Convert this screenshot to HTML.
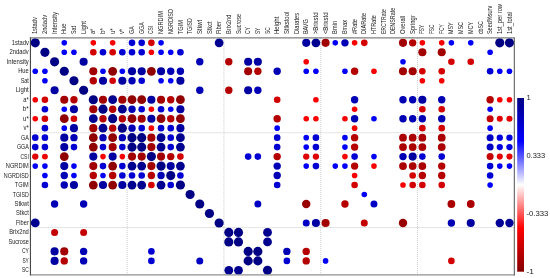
<!DOCTYPE html>
<html><head><meta charset="utf-8"><title>Correlation plot</title>
<style>html,body{margin:0;padding:0;background:#fff}svg{display:block}text{font-family:"Liberation Sans",sans-serif;fill:#222}</style></head>
<body>
<svg width="550" height="278" viewBox="0 0 550 278">
<defs><linearGradient id="cb" x1="0" y1="0" x2="0" y2="1"><stop offset="0" stop-color="#000084"/><stop offset="0.25" stop-color="#0000ff"/><stop offset="0.5" stop-color="#ffffff"/><stop offset="0.75" stop-color="#ff0000"/><stop offset="1" stop-color="#840000"/></linearGradient></defs>
<rect width="550" height="278" fill="#fff"/>
<line x1="127.18" y1="37.90" x2="127.18" y2="274.90" stroke="#aaa" stroke-width="0.6" stroke-dasharray="1 1"/>
<line x1="223.96" y1="37.90" x2="223.96" y2="274.90" stroke="#aaa" stroke-width="0.6" stroke-dasharray="1 1"/>
<line x1="320.74" y1="37.90" x2="320.74" y2="274.90" stroke="#aaa" stroke-width="0.6" stroke-dasharray="1 1"/>
<line x1="417.52" y1="37.90" x2="417.52" y2="274.90" stroke="#aaa" stroke-width="0.6" stroke-dasharray="1 1"/>
<line x1="30.40" y1="132.70" x2="514.30" y2="132.70" stroke="#aaa" stroke-width="0.6" stroke-dasharray="1 1"/>
<line x1="30.40" y1="227.50" x2="514.30" y2="227.50" stroke="#aaa" stroke-width="0.6" stroke-dasharray="1 1"/>
<circle cx="35.24" cy="42.84" r="4.58" fill="#000084"/>
<circle cx="64.27" cy="42.84" r="2.80" fill="#0000f8"/>
<circle cx="93.31" cy="42.84" r="2.80" fill="#f80000"/>
<circle cx="112.66" cy="42.84" r="2.80" fill="#f80000"/>
<circle cx="132.02" cy="42.84" r="3.30" fill="#0000d3"/>
<circle cx="141.70" cy="42.84" r="3.30" fill="#0000d3"/>
<circle cx="151.38" cy="42.84" r="3.30" fill="#d30000"/>
<circle cx="161.05" cy="42.84" r="2.80" fill="#0000f8"/>
<circle cx="219.12" cy="42.84" r="4.40" fill="#000090"/>
<circle cx="306.22" cy="42.84" r="4.05" fill="#0000a2"/>
<circle cx="315.90" cy="42.84" r="4.40" fill="#000090"/>
<circle cx="325.58" cy="42.84" r="4.05" fill="#a20000"/>
<circle cx="335.26" cy="42.84" r="2.80" fill="#0000f8"/>
<circle cx="344.94" cy="42.84" r="3.70" fill="#0000b5"/>
<circle cx="354.61" cy="42.84" r="2.80" fill="#f80000"/>
<circle cx="364.29" cy="42.84" r="3.30" fill="#d30000"/>
<circle cx="403.00" cy="42.84" r="4.05" fill="#a20000"/>
<circle cx="412.68" cy="42.84" r="3.70" fill="#b50000"/>
<circle cx="422.36" cy="42.84" r="2.80" fill="#f80000"/>
<circle cx="441.72" cy="42.84" r="2.80" fill="#f80000"/>
<circle cx="451.39" cy="42.84" r="2.80" fill="#0000f8"/>
<circle cx="470.75" cy="42.84" r="2.80" fill="#0000f8"/>
<circle cx="499.78" cy="42.84" r="4.58" fill="#000084"/>
<circle cx="509.46" cy="42.84" r="4.58" fill="#000084"/>
<circle cx="44.92" cy="52.32" r="4.58" fill="#000084"/>
<circle cx="64.27" cy="52.32" r="2.80" fill="#0000f8"/>
<circle cx="73.95" cy="52.32" r="2.80" fill="#0000f8"/>
<circle cx="93.31" cy="52.32" r="3.30" fill="#d30000"/>
<circle cx="102.99" cy="52.32" r="3.30" fill="#0000d3"/>
<circle cx="112.66" cy="52.32" r="3.30" fill="#d30000"/>
<circle cx="122.34" cy="52.32" r="3.30" fill="#0000d3"/>
<circle cx="132.02" cy="52.32" r="3.30" fill="#0000d3"/>
<circle cx="141.70" cy="52.32" r="3.30" fill="#0000d3"/>
<circle cx="151.38" cy="52.32" r="2.80" fill="#f80000"/>
<circle cx="161.05" cy="52.32" r="2.80" fill="#0000f8"/>
<circle cx="170.73" cy="52.32" r="2.80" fill="#0000f8"/>
<circle cx="180.41" cy="52.32" r="3.30" fill="#0000d3"/>
<circle cx="422.36" cy="52.32" r="4.05" fill="#a20000"/>
<circle cx="441.72" cy="52.32" r="4.05" fill="#a20000"/>
<circle cx="490.11" cy="52.32" r="2.80" fill="#0000f8"/>
<circle cx="54.59" cy="61.80" r="4.58" fill="#000084"/>
<circle cx="83.63" cy="61.80" r="4.05" fill="#0000a2"/>
<circle cx="199.77" cy="61.80" r="3.70" fill="#0000b5"/>
<circle cx="228.80" cy="61.80" r="3.70" fill="#b50000"/>
<circle cx="248.16" cy="61.80" r="4.05" fill="#0000a2"/>
<circle cx="257.83" cy="61.80" r="4.05" fill="#0000a2"/>
<circle cx="306.22" cy="61.80" r="2.80" fill="#f80000"/>
<circle cx="403.00" cy="61.80" r="2.80" fill="#0000f8"/>
<circle cx="451.39" cy="61.80" r="3.30" fill="#d30000"/>
<circle cx="470.75" cy="61.80" r="3.30" fill="#d30000"/>
<circle cx="35.24" cy="71.28" r="2.80" fill="#0000f8"/>
<circle cx="44.92" cy="71.28" r="2.80" fill="#0000f8"/>
<circle cx="64.27" cy="71.28" r="4.58" fill="#000084"/>
<circle cx="93.31" cy="71.28" r="4.05" fill="#a20000"/>
<circle cx="102.99" cy="71.28" r="2.80" fill="#0000f8"/>
<circle cx="112.66" cy="71.28" r="4.40" fill="#900000"/>
<circle cx="122.34" cy="71.28" r="2.80" fill="#0000f8"/>
<circle cx="132.02" cy="71.28" r="4.05" fill="#0000a2"/>
<circle cx="141.70" cy="71.28" r="4.05" fill="#0000a2"/>
<circle cx="151.38" cy="71.28" r="4.40" fill="#900000"/>
<circle cx="161.05" cy="71.28" r="4.05" fill="#0000a2"/>
<circle cx="170.73" cy="71.28" r="3.70" fill="#0000b5"/>
<circle cx="180.41" cy="71.28" r="3.70" fill="#0000b5"/>
<circle cx="248.16" cy="71.28" r="4.05" fill="#a20000"/>
<circle cx="257.83" cy="71.28" r="3.70" fill="#b50000"/>
<circle cx="277.19" cy="71.28" r="3.70" fill="#0000b5"/>
<circle cx="306.22" cy="71.28" r="2.80" fill="#0000f8"/>
<circle cx="315.90" cy="71.28" r="2.80" fill="#0000f8"/>
<circle cx="344.94" cy="71.28" r="2.80" fill="#0000f8"/>
<circle cx="354.61" cy="71.28" r="3.70" fill="#b50000"/>
<circle cx="373.97" cy="71.28" r="2.80" fill="#f80000"/>
<circle cx="403.00" cy="71.28" r="4.05" fill="#a20000"/>
<circle cx="412.68" cy="71.28" r="4.05" fill="#a20000"/>
<circle cx="422.36" cy="71.28" r="3.30" fill="#d30000"/>
<circle cx="441.72" cy="71.28" r="3.30" fill="#d30000"/>
<circle cx="490.11" cy="71.28" r="3.30" fill="#0000d3"/>
<circle cx="499.78" cy="71.28" r="2.80" fill="#0000f8"/>
<circle cx="509.46" cy="71.28" r="2.80" fill="#0000f8"/>
<circle cx="44.92" cy="80.76" r="2.80" fill="#0000f8"/>
<circle cx="73.95" cy="80.76" r="4.58" fill="#000084"/>
<circle cx="93.31" cy="80.76" r="3.70" fill="#b50000"/>
<circle cx="102.99" cy="80.76" r="4.05" fill="#0000a2"/>
<circle cx="112.66" cy="80.76" r="3.30" fill="#d30000"/>
<circle cx="122.34" cy="80.76" r="4.05" fill="#0000a2"/>
<circle cx="132.02" cy="80.76" r="3.70" fill="#0000b5"/>
<circle cx="141.70" cy="80.76" r="3.30" fill="#0000d3"/>
<circle cx="161.05" cy="80.76" r="2.80" fill="#0000f8"/>
<circle cx="170.73" cy="80.76" r="2.80" fill="#0000f8"/>
<circle cx="180.41" cy="80.76" r="4.05" fill="#0000a2"/>
<circle cx="422.36" cy="80.76" r="2.80" fill="#f80000"/>
<circle cx="441.72" cy="80.76" r="2.80" fill="#f80000"/>
<circle cx="54.59" cy="90.24" r="4.05" fill="#0000a2"/>
<circle cx="83.63" cy="90.24" r="4.58" fill="#000084"/>
<circle cx="199.77" cy="90.24" r="3.70" fill="#0000b5"/>
<circle cx="228.80" cy="90.24" r="3.70" fill="#b50000"/>
<circle cx="248.16" cy="90.24" r="4.05" fill="#0000a2"/>
<circle cx="257.83" cy="90.24" r="3.70" fill="#0000b5"/>
<circle cx="35.24" cy="99.72" r="2.80" fill="#f80000"/>
<circle cx="44.92" cy="99.72" r="3.30" fill="#d30000"/>
<circle cx="64.27" cy="99.72" r="4.05" fill="#a20000"/>
<circle cx="73.95" cy="99.72" r="3.70" fill="#b50000"/>
<circle cx="93.31" cy="99.72" r="4.58" fill="#000084"/>
<circle cx="102.99" cy="99.72" r="4.05" fill="#a20000"/>
<circle cx="112.66" cy="99.72" r="4.40" fill="#000090"/>
<circle cx="122.34" cy="99.72" r="4.05" fill="#a20000"/>
<circle cx="132.02" cy="99.72" r="4.40" fill="#900000"/>
<circle cx="141.70" cy="99.72" r="4.40" fill="#900000"/>
<circle cx="151.38" cy="99.72" r="4.05" fill="#0000a2"/>
<circle cx="161.05" cy="99.72" r="4.05" fill="#a20000"/>
<circle cx="170.73" cy="99.72" r="3.70" fill="#b50000"/>
<circle cx="180.41" cy="99.72" r="4.40" fill="#900000"/>
<circle cx="277.19" cy="99.72" r="3.30" fill="#d30000"/>
<circle cx="315.90" cy="99.72" r="2.80" fill="#f80000"/>
<circle cx="354.61" cy="99.72" r="3.70" fill="#0000b5"/>
<circle cx="403.00" cy="99.72" r="3.70" fill="#0000b5"/>
<circle cx="412.68" cy="99.72" r="3.70" fill="#0000b5"/>
<circle cx="422.36" cy="99.72" r="4.05" fill="#0000a2"/>
<circle cx="441.72" cy="99.72" r="3.70" fill="#0000b5"/>
<circle cx="490.11" cy="99.72" r="3.70" fill="#b50000"/>
<circle cx="499.78" cy="99.72" r="2.80" fill="#f80000"/>
<circle cx="509.46" cy="99.72" r="2.80" fill="#f80000"/>
<circle cx="44.92" cy="109.20" r="3.30" fill="#0000d3"/>
<circle cx="64.27" cy="109.20" r="2.80" fill="#0000f8"/>
<circle cx="73.95" cy="109.20" r="4.05" fill="#0000a2"/>
<circle cx="93.31" cy="109.20" r="4.05" fill="#a20000"/>
<circle cx="102.99" cy="109.20" r="4.58" fill="#000084"/>
<circle cx="112.66" cy="109.20" r="3.70" fill="#b50000"/>
<circle cx="122.34" cy="109.20" r="4.40" fill="#000090"/>
<circle cx="132.02" cy="109.20" r="3.70" fill="#0000b5"/>
<circle cx="141.70" cy="109.20" r="3.30" fill="#0000d3"/>
<circle cx="151.38" cy="109.20" r="2.80" fill="#f80000"/>
<circle cx="161.05" cy="109.20" r="3.30" fill="#0000d3"/>
<circle cx="170.73" cy="109.20" r="2.80" fill="#0000f8"/>
<circle cx="180.41" cy="109.20" r="4.05" fill="#0000a2"/>
<circle cx="354.61" cy="109.20" r="2.80" fill="#f80000"/>
<circle cx="422.36" cy="109.20" r="3.30" fill="#d30000"/>
<circle cx="441.72" cy="109.20" r="3.30" fill="#d30000"/>
<circle cx="490.11" cy="109.20" r="2.80" fill="#0000f8"/>
<circle cx="35.24" cy="118.68" r="2.80" fill="#f80000"/>
<circle cx="44.92" cy="118.68" r="3.30" fill="#d30000"/>
<circle cx="64.27" cy="118.68" r="4.40" fill="#900000"/>
<circle cx="73.95" cy="118.68" r="3.30" fill="#d30000"/>
<circle cx="93.31" cy="118.68" r="4.40" fill="#000090"/>
<circle cx="102.99" cy="118.68" r="3.70" fill="#b50000"/>
<circle cx="112.66" cy="118.68" r="4.58" fill="#000084"/>
<circle cx="122.34" cy="118.68" r="3.70" fill="#b50000"/>
<circle cx="132.02" cy="118.68" r="4.40" fill="#900000"/>
<circle cx="141.70" cy="118.68" r="4.05" fill="#a20000"/>
<circle cx="151.38" cy="118.68" r="4.05" fill="#0000a2"/>
<circle cx="161.05" cy="118.68" r="4.40" fill="#900000"/>
<circle cx="170.73" cy="118.68" r="3.70" fill="#b50000"/>
<circle cx="180.41" cy="118.68" r="4.40" fill="#900000"/>
<circle cx="277.19" cy="118.68" r="3.70" fill="#b50000"/>
<circle cx="306.22" cy="118.68" r="2.80" fill="#f80000"/>
<circle cx="315.90" cy="118.68" r="2.80" fill="#f80000"/>
<circle cx="344.94" cy="118.68" r="2.80" fill="#f80000"/>
<circle cx="354.61" cy="118.68" r="3.70" fill="#0000b5"/>
<circle cx="373.97" cy="118.68" r="2.80" fill="#0000f8"/>
<circle cx="403.00" cy="118.68" r="3.70" fill="#0000b5"/>
<circle cx="412.68" cy="118.68" r="3.70" fill="#0000b5"/>
<circle cx="422.36" cy="118.68" r="3.70" fill="#0000b5"/>
<circle cx="441.72" cy="118.68" r="3.70" fill="#0000b5"/>
<circle cx="490.11" cy="118.68" r="3.50" fill="#c40000"/>
<circle cx="499.78" cy="118.68" r="3.05" fill="#e50000"/>
<circle cx="509.46" cy="118.68" r="3.05" fill="#e50000"/>
<circle cx="44.92" cy="128.16" r="3.30" fill="#0000d3"/>
<circle cx="64.27" cy="128.16" r="2.80" fill="#0000f8"/>
<circle cx="73.95" cy="128.16" r="4.05" fill="#0000a2"/>
<circle cx="93.31" cy="128.16" r="4.05" fill="#a20000"/>
<circle cx="102.99" cy="128.16" r="4.40" fill="#000090"/>
<circle cx="112.66" cy="128.16" r="3.70" fill="#b50000"/>
<circle cx="122.34" cy="128.16" r="4.58" fill="#000084"/>
<circle cx="132.02" cy="128.16" r="3.70" fill="#0000b5"/>
<circle cx="141.70" cy="128.16" r="3.30" fill="#0000d3"/>
<circle cx="151.38" cy="128.16" r="2.80" fill="#f80000"/>
<circle cx="161.05" cy="128.16" r="3.30" fill="#0000d3"/>
<circle cx="170.73" cy="128.16" r="3.30" fill="#0000d3"/>
<circle cx="180.41" cy="128.16" r="4.05" fill="#0000a2"/>
<circle cx="277.19" cy="128.16" r="2.80" fill="#0000f8"/>
<circle cx="354.61" cy="128.16" r="2.80" fill="#f80000"/>
<circle cx="422.36" cy="128.16" r="3.30" fill="#d30000"/>
<circle cx="441.72" cy="128.16" r="3.30" fill="#d30000"/>
<circle cx="490.11" cy="128.16" r="2.80" fill="#0000f8"/>
<circle cx="35.24" cy="137.64" r="3.30" fill="#0000d3"/>
<circle cx="44.92" cy="137.64" r="3.30" fill="#0000d3"/>
<circle cx="64.27" cy="137.64" r="4.05" fill="#0000a2"/>
<circle cx="73.95" cy="137.64" r="3.70" fill="#0000b5"/>
<circle cx="93.31" cy="137.64" r="4.40" fill="#900000"/>
<circle cx="102.99" cy="137.64" r="3.70" fill="#0000b5"/>
<circle cx="112.66" cy="137.64" r="4.40" fill="#900000"/>
<circle cx="122.34" cy="137.64" r="3.70" fill="#0000b5"/>
<circle cx="132.02" cy="137.64" r="4.58" fill="#000084"/>
<circle cx="141.70" cy="137.64" r="4.58" fill="#000084"/>
<circle cx="151.38" cy="137.64" r="4.05" fill="#a20000"/>
<circle cx="161.05" cy="137.64" r="4.40" fill="#000090"/>
<circle cx="170.73" cy="137.64" r="3.30" fill="#0000d3"/>
<circle cx="180.41" cy="137.64" r="4.40" fill="#000090"/>
<circle cx="277.19" cy="137.64" r="3.30" fill="#0000d3"/>
<circle cx="306.22" cy="137.64" r="2.80" fill="#0000f8"/>
<circle cx="315.90" cy="137.64" r="3.30" fill="#0000d3"/>
<circle cx="344.94" cy="137.64" r="2.80" fill="#0000f8"/>
<circle cx="354.61" cy="137.64" r="3.70" fill="#b50000"/>
<circle cx="403.00" cy="137.64" r="3.88" fill="#ab0000"/>
<circle cx="412.68" cy="137.64" r="3.88" fill="#ab0000"/>
<circle cx="422.36" cy="137.64" r="3.88" fill="#ab0000"/>
<circle cx="441.72" cy="137.64" r="3.88" fill="#ab0000"/>
<circle cx="490.11" cy="137.64" r="3.50" fill="#0000c4"/>
<circle cx="499.78" cy="137.64" r="3.15" fill="#0000de"/>
<circle cx="509.46" cy="137.64" r="3.15" fill="#0000de"/>
<circle cx="35.24" cy="147.12" r="3.30" fill="#0000d3"/>
<circle cx="44.92" cy="147.12" r="3.30" fill="#0000d3"/>
<circle cx="64.27" cy="147.12" r="4.05" fill="#0000a2"/>
<circle cx="73.95" cy="147.12" r="3.30" fill="#0000d3"/>
<circle cx="93.31" cy="147.12" r="4.40" fill="#900000"/>
<circle cx="102.99" cy="147.12" r="3.30" fill="#0000d3"/>
<circle cx="112.66" cy="147.12" r="4.05" fill="#a20000"/>
<circle cx="122.34" cy="147.12" r="3.30" fill="#0000d3"/>
<circle cx="132.02" cy="147.12" r="4.58" fill="#000084"/>
<circle cx="141.70" cy="147.12" r="4.58" fill="#000084"/>
<circle cx="151.38" cy="147.12" r="4.05" fill="#a20000"/>
<circle cx="161.05" cy="147.12" r="4.40" fill="#000090"/>
<circle cx="170.73" cy="147.12" r="3.30" fill="#0000d3"/>
<circle cx="180.41" cy="147.12" r="4.40" fill="#000090"/>
<circle cx="277.19" cy="147.12" r="3.30" fill="#0000d3"/>
<circle cx="306.22" cy="147.12" r="2.80" fill="#0000f8"/>
<circle cx="315.90" cy="147.12" r="3.30" fill="#0000d3"/>
<circle cx="344.94" cy="147.12" r="2.80" fill="#0000f8"/>
<circle cx="354.61" cy="147.12" r="3.70" fill="#b50000"/>
<circle cx="403.00" cy="147.12" r="3.88" fill="#ab0000"/>
<circle cx="412.68" cy="147.12" r="3.88" fill="#ab0000"/>
<circle cx="422.36" cy="147.12" r="3.88" fill="#ab0000"/>
<circle cx="441.72" cy="147.12" r="3.88" fill="#ab0000"/>
<circle cx="490.11" cy="147.12" r="3.50" fill="#0000c4"/>
<circle cx="499.78" cy="147.12" r="3.15" fill="#0000de"/>
<circle cx="509.46" cy="147.12" r="3.15" fill="#0000de"/>
<circle cx="35.24" cy="156.60" r="3.15" fill="#de0000"/>
<circle cx="44.92" cy="156.60" r="2.95" fill="#ed0000"/>
<circle cx="64.27" cy="156.60" r="4.40" fill="#900000"/>
<circle cx="93.31" cy="156.60" r="4.05" fill="#0000a2"/>
<circle cx="102.99" cy="156.60" r="2.80" fill="#f80000"/>
<circle cx="112.66" cy="156.60" r="4.05" fill="#0000a2"/>
<circle cx="122.34" cy="156.60" r="2.80" fill="#f80000"/>
<circle cx="132.02" cy="156.60" r="4.05" fill="#a20000"/>
<circle cx="141.70" cy="156.60" r="4.05" fill="#a20000"/>
<circle cx="151.38" cy="156.60" r="4.58" fill="#000084"/>
<circle cx="161.05" cy="156.60" r="4.05" fill="#a20000"/>
<circle cx="170.73" cy="156.60" r="3.70" fill="#b50000"/>
<circle cx="180.41" cy="156.60" r="3.30" fill="#d30000"/>
<circle cx="248.16" cy="156.60" r="3.30" fill="#0000d3"/>
<circle cx="257.83" cy="156.60" r="3.30" fill="#0000d3"/>
<circle cx="277.19" cy="156.60" r="3.70" fill="#b50000"/>
<circle cx="306.22" cy="156.60" r="3.15" fill="#de0000"/>
<circle cx="315.90" cy="156.60" r="3.15" fill="#de0000"/>
<circle cx="344.94" cy="156.60" r="2.80" fill="#f80000"/>
<circle cx="354.61" cy="156.60" r="3.30" fill="#0000d3"/>
<circle cx="373.97" cy="156.60" r="2.80" fill="#0000f8"/>
<circle cx="403.00" cy="156.60" r="3.70" fill="#0000b5"/>
<circle cx="412.68" cy="156.60" r="4.05" fill="#0000a2"/>
<circle cx="422.36" cy="156.60" r="3.30" fill="#0000d3"/>
<circle cx="441.72" cy="156.60" r="3.30" fill="#0000d3"/>
<circle cx="490.11" cy="156.60" r="3.50" fill="#c40000"/>
<circle cx="499.78" cy="156.60" r="3.05" fill="#e50000"/>
<circle cx="509.46" cy="156.60" r="3.05" fill="#e50000"/>
<circle cx="35.24" cy="166.08" r="2.80" fill="#0000f8"/>
<circle cx="44.92" cy="166.08" r="2.80" fill="#0000f8"/>
<circle cx="64.27" cy="166.08" r="4.05" fill="#0000a2"/>
<circle cx="73.95" cy="166.08" r="2.80" fill="#0000f8"/>
<circle cx="93.31" cy="166.08" r="4.05" fill="#a20000"/>
<circle cx="102.99" cy="166.08" r="3.30" fill="#0000d3"/>
<circle cx="112.66" cy="166.08" r="4.40" fill="#900000"/>
<circle cx="122.34" cy="166.08" r="3.30" fill="#0000d3"/>
<circle cx="132.02" cy="166.08" r="4.40" fill="#000090"/>
<circle cx="141.70" cy="166.08" r="4.40" fill="#000090"/>
<circle cx="151.38" cy="166.08" r="4.05" fill="#a20000"/>
<circle cx="161.05" cy="166.08" r="4.58" fill="#000084"/>
<circle cx="170.73" cy="166.08" r="4.05" fill="#0000a2"/>
<circle cx="180.41" cy="166.08" r="4.40" fill="#000090"/>
<circle cx="277.19" cy="166.08" r="3.70" fill="#0000b5"/>
<circle cx="306.22" cy="166.08" r="2.80" fill="#0000f8"/>
<circle cx="315.90" cy="166.08" r="3.30" fill="#0000d3"/>
<circle cx="335.26" cy="166.08" r="2.80" fill="#0000f8"/>
<circle cx="344.94" cy="166.08" r="2.80" fill="#0000f8"/>
<circle cx="354.61" cy="166.08" r="3.70" fill="#b50000"/>
<circle cx="373.97" cy="166.08" r="2.80" fill="#f80000"/>
<circle cx="403.00" cy="166.08" r="3.88" fill="#ab0000"/>
<circle cx="412.68" cy="166.08" r="3.88" fill="#ab0000"/>
<circle cx="422.36" cy="166.08" r="3.88" fill="#ab0000"/>
<circle cx="441.72" cy="166.08" r="3.70" fill="#b50000"/>
<circle cx="490.11" cy="166.08" r="3.30" fill="#0000d3"/>
<circle cx="499.78" cy="166.08" r="2.80" fill="#0000f8"/>
<circle cx="509.46" cy="166.08" r="2.80" fill="#0000f8"/>
<circle cx="44.92" cy="175.56" r="2.80" fill="#0000f8"/>
<circle cx="64.27" cy="175.56" r="3.70" fill="#0000b5"/>
<circle cx="73.95" cy="175.56" r="2.80" fill="#0000f8"/>
<circle cx="93.31" cy="175.56" r="3.70" fill="#b50000"/>
<circle cx="102.99" cy="175.56" r="2.80" fill="#0000f8"/>
<circle cx="112.66" cy="175.56" r="3.70" fill="#b50000"/>
<circle cx="122.34" cy="175.56" r="3.30" fill="#0000d3"/>
<circle cx="132.02" cy="175.56" r="3.30" fill="#0000d3"/>
<circle cx="141.70" cy="175.56" r="3.30" fill="#0000d3"/>
<circle cx="151.38" cy="175.56" r="3.70" fill="#b50000"/>
<circle cx="161.05" cy="175.56" r="3.70" fill="#0000b5"/>
<circle cx="170.73" cy="175.56" r="4.58" fill="#000084"/>
<circle cx="180.41" cy="175.56" r="3.30" fill="#0000d3"/>
<circle cx="277.19" cy="175.56" r="3.70" fill="#0000b5"/>
<circle cx="354.61" cy="175.56" r="2.80" fill="#f80000"/>
<circle cx="412.68" cy="175.56" r="3.30" fill="#d30000"/>
<circle cx="422.36" cy="175.56" r="3.70" fill="#b50000"/>
<circle cx="441.72" cy="175.56" r="3.70" fill="#b50000"/>
<circle cx="490.11" cy="175.56" r="3.30" fill="#0000d3"/>
<circle cx="44.92" cy="185.04" r="3.30" fill="#0000d3"/>
<circle cx="64.27" cy="185.04" r="3.70" fill="#0000b5"/>
<circle cx="73.95" cy="185.04" r="4.05" fill="#0000a2"/>
<circle cx="93.31" cy="185.04" r="4.40" fill="#900000"/>
<circle cx="102.99" cy="185.04" r="4.05" fill="#0000a2"/>
<circle cx="112.66" cy="185.04" r="4.40" fill="#900000"/>
<circle cx="122.34" cy="185.04" r="4.05" fill="#0000a2"/>
<circle cx="132.02" cy="185.04" r="4.40" fill="#000090"/>
<circle cx="141.70" cy="185.04" r="4.40" fill="#000090"/>
<circle cx="151.38" cy="185.04" r="3.30" fill="#d30000"/>
<circle cx="161.05" cy="185.04" r="4.40" fill="#000090"/>
<circle cx="170.73" cy="185.04" r="3.30" fill="#0000d3"/>
<circle cx="180.41" cy="185.04" r="4.58" fill="#000084"/>
<circle cx="277.19" cy="185.04" r="3.30" fill="#0000d3"/>
<circle cx="354.61" cy="185.04" r="3.30" fill="#d30000"/>
<circle cx="403.00" cy="185.04" r="2.80" fill="#f80000"/>
<circle cx="412.68" cy="185.04" r="3.30" fill="#d30000"/>
<circle cx="422.36" cy="185.04" r="3.30" fill="#d30000"/>
<circle cx="441.72" cy="185.04" r="3.30" fill="#d30000"/>
<circle cx="490.11" cy="185.04" r="2.80" fill="#0000f8"/>
<circle cx="190.09" cy="194.52" r="4.58" fill="#000084"/>
<circle cx="364.29" cy="194.52" r="2.80" fill="#0000f8"/>
<circle cx="54.59" cy="204.00" r="3.70" fill="#0000b5"/>
<circle cx="83.63" cy="204.00" r="3.70" fill="#0000b5"/>
<circle cx="199.77" cy="204.00" r="4.58" fill="#000084"/>
<circle cx="257.83" cy="204.00" r="3.50" fill="#0000c4"/>
<circle cx="306.22" cy="204.00" r="4.22" fill="#990000"/>
<circle cx="344.94" cy="204.00" r="3.70" fill="#b50000"/>
<circle cx="373.97" cy="204.00" r="3.50" fill="#0000c4"/>
<circle cx="451.39" cy="204.00" r="3.88" fill="#ab0000"/>
<circle cx="470.75" cy="204.00" r="3.88" fill="#ab0000"/>
<circle cx="209.44" cy="213.48" r="4.58" fill="#000084"/>
<circle cx="35.24" cy="222.96" r="4.40" fill="#000090"/>
<circle cx="219.12" cy="222.96" r="4.58" fill="#000084"/>
<circle cx="306.22" cy="222.96" r="3.50" fill="#0000c4"/>
<circle cx="315.90" cy="222.96" r="4.05" fill="#0000a2"/>
<circle cx="325.58" cy="222.96" r="4.05" fill="#a20000"/>
<circle cx="364.29" cy="222.96" r="3.50" fill="#c40000"/>
<circle cx="403.00" cy="222.96" r="4.22" fill="#990000"/>
<circle cx="451.39" cy="222.96" r="3.70" fill="#0000b5"/>
<circle cx="470.75" cy="222.96" r="4.05" fill="#0000a2"/>
<circle cx="499.78" cy="222.96" r="4.22" fill="#000099"/>
<circle cx="509.46" cy="222.96" r="4.22" fill="#000099"/>
<circle cx="54.59" cy="232.44" r="3.50" fill="#c40000"/>
<circle cx="83.63" cy="232.44" r="3.50" fill="#c40000"/>
<circle cx="228.80" cy="232.44" r="4.58" fill="#000084"/>
<circle cx="238.48" cy="232.44" r="4.58" fill="#000084"/>
<circle cx="267.51" cy="232.44" r="4.40" fill="#000090"/>
<circle cx="228.80" cy="241.92" r="4.58" fill="#000084"/>
<circle cx="238.48" cy="241.92" r="4.58" fill="#000084"/>
<circle cx="267.51" cy="241.92" r="4.40" fill="#000090"/>
<circle cx="54.59" cy="251.40" r="4.05" fill="#0000a2"/>
<circle cx="64.27" cy="251.40" r="4.05" fill="#a20000"/>
<circle cx="83.63" cy="251.40" r="3.70" fill="#0000b5"/>
<circle cx="151.38" cy="251.40" r="3.30" fill="#0000d3"/>
<circle cx="248.16" cy="251.40" r="4.58" fill="#000084"/>
<circle cx="257.83" cy="251.40" r="4.58" fill="#000084"/>
<circle cx="286.87" cy="251.40" r="3.70" fill="#0000b5"/>
<circle cx="306.22" cy="251.40" r="3.70" fill="#b50000"/>
<circle cx="54.59" cy="260.88" r="4.05" fill="#0000a2"/>
<circle cx="64.27" cy="260.88" r="3.70" fill="#b50000"/>
<circle cx="83.63" cy="260.88" r="3.70" fill="#0000b5"/>
<circle cx="151.38" cy="260.88" r="3.30" fill="#0000d3"/>
<circle cx="199.77" cy="260.88" r="3.50" fill="#0000c4"/>
<circle cx="248.16" cy="260.88" r="4.58" fill="#000084"/>
<circle cx="257.83" cy="260.88" r="4.58" fill="#000084"/>
<circle cx="286.87" cy="260.88" r="3.30" fill="#0000d3"/>
<circle cx="306.22" cy="260.88" r="3.70" fill="#b50000"/>
<circle cx="325.58" cy="260.88" r="2.80" fill="#0000f8"/>
<circle cx="451.39" cy="260.88" r="3.30" fill="#d30000"/>
<circle cx="228.80" cy="270.36" r="4.40" fill="#000090"/>
<circle cx="238.48" cy="270.36" r="4.40" fill="#000090"/>
<circle cx="267.51" cy="270.36" r="4.58" fill="#000084"/>
<line x1="30.40" y1="37.90" x2="514.30" y2="37.90" stroke="#808080" stroke-width="1.1"/>
<line x1="30.40" y1="274.90" x2="514.80" y2="274.90" stroke="#909090" stroke-width="1.2"/>
<line x1="514.30" y1="37.40" x2="514.30" y2="275.40" stroke="#505050" stroke-width="1"/>
<line x1="30.40" y1="37.40" x2="30.40" y2="275.40" stroke="#333" stroke-width="1"/>
<text x="11.82" y="44.84" font-size="6.4" textLength="16.98" lengthAdjust="spacingAndGlyphs">1stadv</text>
<text x="9.51" y="54.32" font-size="6.4" textLength="19.29" lengthAdjust="spacingAndGlyphs">2ndadv</text>
<text x="6.71" y="63.80" font-size="6.4" textLength="22.09" lengthAdjust="spacingAndGlyphs">Intensity</text>
<text x="18.19" y="73.28" font-size="6.4" textLength="10.61" lengthAdjust="spacingAndGlyphs">Hue</text>
<text x="20.66" y="82.76" font-size="6.4" textLength="8.14" lengthAdjust="spacingAndGlyphs">Sat</text>
<text x="15.78" y="92.24" font-size="6.4" textLength="13.02" lengthAdjust="spacingAndGlyphs">Light</text>
<text x="23.34" y="101.72" font-size="6.4" textLength="5.46" lengthAdjust="spacingAndGlyphs">a*</text>
<text x="22.87" y="111.20" font-size="6.4" textLength="5.93" lengthAdjust="spacingAndGlyphs">b*</text>
<text x="23.00" y="120.68" font-size="6.4" textLength="5.80" lengthAdjust="spacingAndGlyphs">u*</text>
<text x="23.51" y="130.16" font-size="6.4" textLength="5.29" lengthAdjust="spacingAndGlyphs">v*</text>
<text x="20.95" y="139.64" font-size="6.4" textLength="7.85" lengthAdjust="spacingAndGlyphs">GA</text>
<text x="16.90" y="149.12" font-size="6.4" textLength="11.90" lengthAdjust="spacingAndGlyphs">GGA</text>
<text x="20.45" y="158.60" font-size="6.4" textLength="8.35" lengthAdjust="spacingAndGlyphs">CSI</text>
<text x="5.80" y="168.08" font-size="6.4" textLength="23.00" lengthAdjust="spacingAndGlyphs">NGRDIM</text>
<text x="3.82" y="177.56" font-size="6.4" textLength="24.98" lengthAdjust="spacingAndGlyphs">NGRDISD</text>
<text x="14.79" y="187.04" font-size="6.4" textLength="14.01" lengthAdjust="spacingAndGlyphs">TGIM</text>
<text x="12.82" y="196.52" font-size="6.4" textLength="15.98" lengthAdjust="spacingAndGlyphs">TGISD</text>
<text x="14.47" y="206.00" font-size="6.4" textLength="14.33" lengthAdjust="spacingAndGlyphs">Stkwt</text>
<text x="16.01" y="215.48" font-size="6.4" textLength="12.79" lengthAdjust="spacingAndGlyphs">Stkct</text>
<text x="15.88" y="224.96" font-size="6.4" textLength="12.92" lengthAdjust="spacingAndGlyphs">Fiber</text>
<text x="9.24" y="234.44" font-size="6.4" textLength="19.56" lengthAdjust="spacingAndGlyphs">Brix2nd</text>
<text x="8.50" y="243.92" font-size="6.4" textLength="20.30" lengthAdjust="spacingAndGlyphs">Sucrose</text>
<text x="21.89" y="253.40" font-size="6.4" textLength="6.91" lengthAdjust="spacingAndGlyphs">CY</text>
<text x="22.41" y="262.88" font-size="6.4" textLength="6.39" lengthAdjust="spacingAndGlyphs">SY</text>
<text x="22.01" y="272.36" font-size="6.4" textLength="6.79" lengthAdjust="spacingAndGlyphs">SC</text>
<text transform="translate(37.34 34.10) rotate(-90)" font-size="6.4" textLength="16.98" lengthAdjust="spacingAndGlyphs">1stadv</text>
<text transform="translate(47.02 34.10) rotate(-90)" font-size="6.4" textLength="19.29" lengthAdjust="spacingAndGlyphs">2ndadv</text>
<text transform="translate(56.70 34.10) rotate(-90)" font-size="6.4" textLength="22.09" lengthAdjust="spacingAndGlyphs">Intensity</text>
<text transform="translate(66.37 34.10) rotate(-90)" font-size="6.4" textLength="10.61" lengthAdjust="spacingAndGlyphs">Hue</text>
<text transform="translate(76.05 34.10) rotate(-90)" font-size="6.4" textLength="8.14" lengthAdjust="spacingAndGlyphs">Sat</text>
<text transform="translate(85.73 34.10) rotate(-90)" font-size="6.4" textLength="13.02" lengthAdjust="spacingAndGlyphs">Light</text>
<text transform="translate(95.41 34.10) rotate(-90)" font-size="6.4" textLength="5.46" lengthAdjust="spacingAndGlyphs">a*</text>
<text transform="translate(105.09 34.10) rotate(-90)" font-size="6.4" textLength="5.93" lengthAdjust="spacingAndGlyphs">b*</text>
<text transform="translate(114.76 34.10) rotate(-90)" font-size="6.4" textLength="5.80" lengthAdjust="spacingAndGlyphs">u*</text>
<text transform="translate(124.44 34.10) rotate(-90)" font-size="6.4" textLength="5.29" lengthAdjust="spacingAndGlyphs">v*</text>
<text transform="translate(134.12 34.10) rotate(-90)" font-size="6.4" textLength="7.85" lengthAdjust="spacingAndGlyphs">GA</text>
<text transform="translate(143.80 34.10) rotate(-90)" font-size="6.4" textLength="11.90" lengthAdjust="spacingAndGlyphs">GGA</text>
<text transform="translate(153.47 34.10) rotate(-90)" font-size="6.4" textLength="8.35" lengthAdjust="spacingAndGlyphs">CSI</text>
<text transform="translate(163.15 34.10) rotate(-90)" font-size="6.4" textLength="23.00" lengthAdjust="spacingAndGlyphs">NGRDIM</text>
<text transform="translate(172.83 34.10) rotate(-90)" font-size="6.4" textLength="24.98" lengthAdjust="spacingAndGlyphs">NGRDISD</text>
<text transform="translate(182.51 34.10) rotate(-90)" font-size="6.4" textLength="14.01" lengthAdjust="spacingAndGlyphs">TGIM</text>
<text transform="translate(192.19 34.10) rotate(-90)" font-size="6.4" textLength="15.98" lengthAdjust="spacingAndGlyphs">TGISD</text>
<text transform="translate(201.87 34.10) rotate(-90)" font-size="6.4" textLength="14.33" lengthAdjust="spacingAndGlyphs">Stkwt</text>
<text transform="translate(211.54 34.10) rotate(-90)" font-size="6.4" textLength="12.79" lengthAdjust="spacingAndGlyphs">Stkct</text>
<text transform="translate(221.22 34.10) rotate(-90)" font-size="6.4" textLength="12.92" lengthAdjust="spacingAndGlyphs">Fiber</text>
<text transform="translate(230.90 34.10) rotate(-90)" font-size="6.4" textLength="19.56" lengthAdjust="spacingAndGlyphs">Brix2nd</text>
<text transform="translate(240.58 34.10) rotate(-90)" font-size="6.4" textLength="20.30" lengthAdjust="spacingAndGlyphs">Sucrose</text>
<text transform="translate(250.26 34.10) rotate(-90)" font-size="6.4" textLength="6.91" lengthAdjust="spacingAndGlyphs">CY</text>
<text transform="translate(259.93 34.10) rotate(-90)" font-size="6.4" textLength="6.39" lengthAdjust="spacingAndGlyphs">SY</text>
<text transform="translate(269.61 34.10) rotate(-90)" font-size="6.4" textLength="6.79" lengthAdjust="spacingAndGlyphs">SC</text>
<text transform="translate(279.29 34.10) rotate(-90)" font-size="6.4" textLength="17.51" lengthAdjust="spacingAndGlyphs">Height</text>
<text transform="translate(288.97 34.10) rotate(-90)" font-size="6.4" textLength="22.34" lengthAdjust="spacingAndGlyphs">Stlkstool</text>
<text transform="translate(298.65 34.10) rotate(-90)" font-size="6.4" textLength="21.22" lengthAdjust="spacingAndGlyphs">Diarates</text>
<text transform="translate(308.32 34.10) rotate(-90)" font-size="6.4" textLength="14.89" lengthAdjust="spacingAndGlyphs">BAVG</text>
<text transform="translate(318.00 34.10) rotate(-90)" font-size="6.4" textLength="21.58" lengthAdjust="spacingAndGlyphs">&gt;Brixstd</text>
<text transform="translate(327.68 34.10) rotate(-90)" font-size="6.4" textLength="21.58" lengthAdjust="spacingAndGlyphs">&lt;Brixstd</text>
<text transform="translate(337.36 34.10) rotate(-90)" font-size="6.4" textLength="13.23" lengthAdjust="spacingAndGlyphs">Bmin</text>
<text transform="translate(347.04 34.10) rotate(-90)" font-size="6.4" textLength="14.18" lengthAdjust="spacingAndGlyphs">Bmax</text>
<text transform="translate(356.71 34.10) rotate(-90)" font-size="6.4" textLength="15.11" lengthAdjust="spacingAndGlyphs">#Rate</text>
<text transform="translate(366.39 34.10) rotate(-90)" font-size="6.4" textLength="21.14" lengthAdjust="spacingAndGlyphs">DIARate</text>
<text transform="translate(376.07 34.10) rotate(-90)" font-size="6.4" textLength="18.90" lengthAdjust="spacingAndGlyphs">HTRate</text>
<text transform="translate(385.75 34.10) rotate(-90)" font-size="6.4" textLength="24.89" lengthAdjust="spacingAndGlyphs">ERCTRate</text>
<text transform="translate(395.43 34.10) rotate(-90)" font-size="6.4" textLength="26.30" lengthAdjust="spacingAndGlyphs">DENSRate</text>
<text transform="translate(405.10 34.10) rotate(-90)" font-size="6.4" textLength="18.27" lengthAdjust="spacingAndGlyphs">Overall</text>
<text transform="translate(414.78 34.10) rotate(-90)" font-size="6.4" textLength="18.94" lengthAdjust="spacingAndGlyphs">Springr</text>
<text transform="translate(424.46 34.10) rotate(-90)" font-size="6.4" textLength="9.27" lengthAdjust="spacingAndGlyphs">FSY</text>
<text transform="translate(434.14 34.10) rotate(-90)" font-size="6.4" textLength="9.66" lengthAdjust="spacingAndGlyphs">FSC</text>
<text transform="translate(443.82 34.10) rotate(-90)" font-size="6.4" textLength="9.79" lengthAdjust="spacingAndGlyphs">FCY</text>
<text transform="translate(453.49 34.10) rotate(-90)" font-size="6.4" textLength="11.69" lengthAdjust="spacingAndGlyphs">MSY</text>
<text transform="translate(463.17 34.10) rotate(-90)" font-size="6.4" textLength="12.08" lengthAdjust="spacingAndGlyphs">MSC</text>
<text transform="translate(472.85 34.10) rotate(-90)" font-size="6.4" textLength="12.21" lengthAdjust="spacingAndGlyphs">MCY</text>
<text transform="translate(482.53 34.10) rotate(-90)" font-size="6.4" textLength="12.98" lengthAdjust="spacingAndGlyphs">cbSC</text>
<text transform="translate(492.21 34.10) rotate(-90)" font-size="6.4" textLength="28.32" lengthAdjust="spacingAndGlyphs">Seed%surv</text>
<text transform="translate(501.88 34.10) rotate(-90)" font-size="6.4" textLength="30.13" lengthAdjust="spacingAndGlyphs">1st_per row</text>
<text transform="translate(511.56 34.10) rotate(-90)" font-size="6.4" textLength="22.02" lengthAdjust="spacingAndGlyphs">1st_total</text>
<rect x="517.2" y="98" width="6.8" height="173.7" fill="url(#cb)"/>
<text x="526.4" y="99.90" font-size="7.7" fill="#444" textLength="4.26" lengthAdjust="spacingAndGlyphs">1</text>
<text x="526.4" y="157.80" font-size="7.7" fill="#444" textLength="18.75" lengthAdjust="spacingAndGlyphs">0.333</text>
<text x="526.4" y="215.70" font-size="7.7" fill="#444" textLength="21.91" lengthAdjust="spacingAndGlyphs">-0.333</text>
<text x="526.4" y="273.60" font-size="7.7" fill="#444" textLength="7.42" lengthAdjust="spacingAndGlyphs">-1</text>
</svg>
</body></html>
